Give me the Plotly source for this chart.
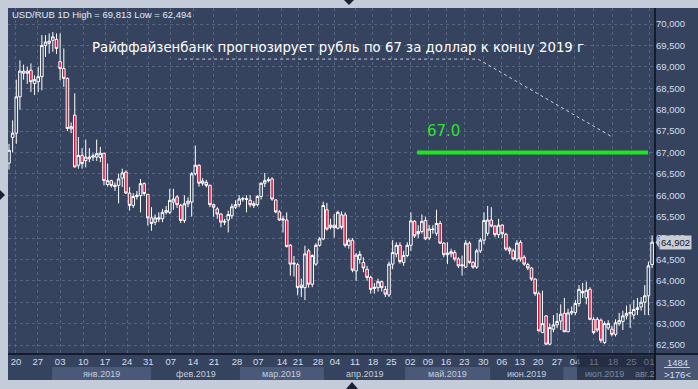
import plotly.graph_objects as go

# ---------------- data ----------------
open_ = [66.75, 67.35, 67.45, 68.30, 68.85, 68.90, 68.92, 68.61, 68.65, 68.77,
         69.50, 69.55, 69.62, 69.64, 69.12, 68.96, 68.73, 67.55, 67.87, 66.70,
         66.93, 66.81, 66.85, 66.89, 66.89, 66.88, 66.98, 66.25, 66.34, 66.20,
         66.23, 66.40, 66.54, 66.05, 65.76, 65.97, 65.99, 66.27, 66.02, 65.47,
         65.37, 65.44, 65.45, 65.60, 65.60, 65.84, 65.96, 65.76, 65.41, 65.80,
         65.84, 66.50, 66.70, 66.28, 66.30, 66.23, 65.78, 65.68, 65.56, 65.37,
         65.42, 65.52, 65.72, 65.78, 65.91, 65.92, 65.88, 65.80, 65.78, 65.97,
         66.28, 66.34, 66.38, 65.89, 65.61, 65.42, 65.42, 64.83, 64.39, 64.38,
         63.90, 63.84, 64.70, 63.92, 64.39, 64.83, 64.98, 65.66, 65.25, 65.30,
         65.23, 65.54, 65.54, 64.83, 64.95, 64.23, 64.50, 64.43, 64.27, 64.08,
         63.82, 63.84, 63.98, 63.80, 63.67, 64.39, 64.63, 64.83, 64.43, 64.59,
         64.83, 65.39, 65.10, 65.15, 65.41, 65.00, 65.21, 65.11, 65.34, 64.88,
         64.61, 64.63, 64.66, 64.51, 64.35, 64.32, 64.88, 64.43, 64.32, 64.70,
         64.95, 65.11, 65.42, 65.28, 65.08, 65.30, 65.09, 64.76, 64.70, 64.51,
         64.90, 64.55, 64.38, 64.30, 64.04, 63.70, 62.79, 63.18, 62.52, 62.87,
         62.97, 63.06, 63.24, 62.81, 63.25, 63.26, 63.47, 63.75, 63.60, 63.80,
         63.10, 63.10, 63.08, 62.56, 62.90, 62.87, 62.75, 63.00, 63.05, 63.18,
         63.24, 63.20, 63.33, 63.39, 63.50, 63.65, 64.38]
high = [67.20, 67.75, 68.70, 69.15, 69.05, 69.00, 69.08, 68.80, 69.00, 69.74,
        69.74, 69.78, 69.813, 69.78, 69.78, 69.43, 68.75, 67.70, 68.38, 67.36,
        67.10, 67.30, 67.10, 66.98, 67.30, 67.13, 66.99, 66.74, 66.36, 66.30,
        66.50, 66.62, 66.58, 66.19, 66.05, 66.10, 66.38, 66.30, 66.03, 65.72,
        65.55, 65.60, 65.68, 65.75, 66.15, 66.15, 66.00, 65.80, 66.00, 65.95,
        66.54, 67.16, 66.72, 66.40, 66.36, 66.25, 65.80, 65.72, 65.58, 65.45,
        65.64, 65.80, 65.88, 66.00, 65.96, 66.00, 66.00, 65.86, 66.00, 66.30,
        66.52, 66.42, 66.42, 65.90, 65.65, 65.52, 65.60, 64.86, 64.58, 64.42,
        64.05, 64.82, 64.75, 64.62, 64.88, 65.02, 65.85, 65.82, 65.45, 65.56,
        65.64, 65.62, 65.60, 65.00, 65.00, 64.65, 64.70, 64.55, 64.35, 64.12,
        63.95, 64.05, 64.00, 63.88, 64.45, 64.95, 64.90, 64.90, 64.70, 64.90,
        65.60, 65.42, 65.30, 65.55, 65.50, 65.30, 65.30, 65.66, 65.40, 64.90,
        64.90, 64.75, 64.72, 64.55, 64.59, 64.95, 64.92, 64.46, 64.75, 65.00,
        65.60, 65.75, 65.72, 65.30, 65.45, 65.32, 65.12, 64.80, 64.75, 64.95,
        64.95, 64.60, 64.42, 64.32, 64.06, 63.75, 63.77, 63.20, 63.00, 63.20,
        63.25, 63.45, 63.60, 63.35, 63.40, 63.55, 63.90, 63.95, 63.98, 63.85,
        63.15, 63.15, 63.12, 63.05, 63.08, 62.95, 63.10, 63.25, 63.30, 63.42,
        63.45, 63.55, 63.60, 63.62, 63.90, 64.45, 65.06]
low = [66.60, 67.00, 67.20, 68.00, 68.70, 68.60, 68.41, 68.34, 68.41, 68.45,
       69.23, 69.31, 69.35, 69.30, 68.69, 68.53, 67.50, 67.45, 66.65, 66.62,
       66.62, 66.65, 66.77, 66.80, 66.80, 66.77, 66.23, 66.20, 66.18, 66.10,
       65.81, 66.19, 66.03, 65.64, 65.70, 65.90, 65.60, 65.98, 65.29, 65.17,
       65.30, 65.37, 65.37, 65.55, 65.56, 65.66, 65.70, 65.35, 65.35, 65.72,
       65.50, 66.46, 66.20, 66.22, 66.18, 65.72, 65.50, 65.45, 65.25, 65.30,
       65.13, 65.45, 65.68, 65.72, 65.85, 65.60, 65.72, 65.70, 65.74, 65.90,
       66.19, 66.30, 65.87, 65.58, 65.40, 65.13, 64.78, 64.12, 64.10, 63.66,
       63.62, 63.55, 63.84, 63.85, 64.35, 64.80, 64.95, 65.17, 65.20, 65.01,
       65.20, 65.20, 64.78, 64.75, 64.20, 64.00, 64.40, 64.20, 64.00, 63.70,
       63.70, 63.75, 63.75, 63.62, 63.62, 64.27, 64.55, 64.40, 64.35, 64.55,
       64.70, 65.00, 65.00, 65.10, 64.95, 64.95, 65.10, 65.05, 64.86, 64.55,
       64.39, 64.55, 64.45, 64.30, 64.12, 64.30, 64.40, 64.28, 64.28, 64.65,
       64.85, 65.05, 65.25, 65.02, 65.00, 65.00, 64.70, 64.62, 64.48, 64.45,
       64.45, 64.35, 64.25, 64.00, 63.65, 62.82, 62.79, 62.494, 62.50, 62.80,
       62.90, 62.85, 62.80, 62.80, 63.20, 63.20, 63.40, 63.60, 63.45, 63.08,
       62.75, 62.80, 62.55, 62.52, 62.85, 62.70, 62.70, 62.95, 62.85, 63.10,
       62.90, 63.10, 63.20, 63.30, 63.20, 63.20, 64.30]
close = [67.05, 67.45, 68.30, 68.90, 68.90, 68.85, 68.65, 68.70, 68.77, 69.50,
         69.58, 69.60, 69.70, 69.43, 68.96, 68.73, 67.56, 67.60, 66.66, 66.93,
         66.74, 66.89, 66.89, 66.92, 66.97, 66.98, 66.34, 66.34, 66.23, 66.23,
         66.38, 66.52, 66.05, 65.76, 65.97, 66.00, 66.27, 66.04, 65.47, 65.34,
         65.47, 65.47, 65.60, 65.64, 65.88, 65.91, 65.78, 65.41, 65.80, 65.86,
         66.50, 66.70, 66.28, 66.33, 66.23, 65.78, 65.72, 65.56, 65.37, 65.39,
         65.55, 65.73, 65.78, 65.91, 65.92, 65.90, 65.78, 65.76, 65.97, 66.28,
         66.34, 66.36, 65.91, 65.61, 65.42, 65.44, 64.80, 64.39, 64.41, 63.84,
         63.84, 64.63, 63.92, 64.59, 64.83, 64.98, 65.76, 65.21, 65.30, 65.24,
         65.60, 65.25, 64.83, 64.95, 64.25, 64.60, 64.62, 64.30, 64.08, 63.80,
         63.85, 63.98, 63.84, 63.69, 64.39, 64.66, 64.83, 64.45, 64.59, 64.83,
         65.40, 65.05, 65.15, 65.39, 64.98, 65.21, 65.20, 65.34, 64.88, 64.61,
         64.65, 64.68, 64.51, 64.35, 64.37, 64.88, 64.43, 64.32, 64.70, 64.95,
         65.41, 65.42, 65.28, 65.08, 65.30, 65.10, 64.74, 64.70, 64.51, 64.88,
         64.51, 64.39, 64.30, 64.04, 63.70, 62.83, 63.00, 62.52, 62.91, 62.97,
         63.05, 63.22, 62.81, 63.25, 63.28, 63.47, 63.80, 63.72, 63.78, 63.10,
         62.79, 62.85, 62.61, 63.00, 63.00, 62.75, 63.02, 63.07, 63.18, 63.24,
         63.26, 63.33, 63.37, 63.50, 63.65, 64.35, 64.902]
bars = list(range(len(close)))

# day labels (every Thursday) and the bar position where each label sits
day_tick_pos = [1.9, 7.9, 14.0, 20.3, 26.3, 32.3, 38.1, 44.3, 50.4, 56.1, 62.4,
                68.2, 74.7, 79.1, 84.6, 89.2, 94.7, 99.6, 104.6, 109.8, 114.7,
                119.6, 124.6, 129.8, 134.9, 139.8, 144.8, 150.0, 154.9, 160.1,
                165.3, 170.3, 175.2]
day_tick_text = ["20", "27", "03", "10", "17", "24", "31", "07", "14", "21", "28",
                 "07", "14", "21", "28", "04", "11", "18", "25", "02", "09",
                 "16", "23", "30", "06", "13", "20", "27", "04", "11", "18",
                 "25", "01"]
month_names = ["янв.2019", "фев.2019", "мар.2019", "апр.2019", "май.2019",
               "июн.2019", "июл.2019", "авг.2"]
month_start = [11.8, 38.9, 63.2, 86.2, 108.4, 131.7, 151.7, 174.1]
price_ticks = [62.5, 63.0, 63.5, 64.0, 64.5, 65.0, 65.5, 66.0, 66.5, 67.0,
               67.5, 68.0, 68.5, 69.0, 69.5, 70.0]

FORECAST = 67.0
forecast_from, forecast_to = 111.7, 174.9
title_text = "Райффайзенбанк прогнозирует рубль по 67 за доллар к концу 2019 г"
pointer_x = [46.3, 128.4, 165.1]
pointer_y = [69.18, 69.18, 67.36]
bars_total, bars_visible = "1484", ">176<"

# ---------------- layout geometry ----------------
W, H = 698, 389
ML, MR, MT, MB = 8, 43, 8, 35
PW, PH = W - ML - MR, H - MT - MB
X_RANGE = [-0.27, 176.8]
Y_RANGE = [62.29, 70.374]

def px(x):
    return (x - ML) / PW

def py(y):
    return (H - MB - y) / PH

BG = "#35435f"
GRID = "#55647f"
BORDER = "#c3ccd8"
TXT = "#d4dcea"
RED = "#e0103c"
FONT = "Liberation Sans"

def fmt(v):
    return f"{v:.3f}".replace(".", ",")

fig = go.Figure()
fig.add_trace(go.Candlestick(
    x=bars, open=open_, high=high, low=low, close=close,
    increasing=dict(line=dict(color="#ffffff", width=1), fillcolor=BG),
    decreasing=dict(line=dict(color="#ffffff", width=1), fillcolor=RED),
    whiskerwidth=0, hoverinfo="skip", showlegend=False,
))

shapes = []
# grey window frame
shapes.append(dict(type="rect", xref="paper", yref="paper", x0=px(0), x1=px(W),
                   y0=py(MT), y1=py(0), fillcolor=BORDER, line_width=0, layer="below"))
shapes.append(dict(type="rect", xref="paper", yref="paper", x0=px(0), x1=px(ML),
                   y0=py(H), y1=py(0), fillcolor=BORDER, line_width=0, layer="below"))
shapes.append(dict(type="rect", xref="paper", yref="paper", x0=px(0), x1=px(W),
                   y0=py(H), y1=py(380), fillcolor=BORDER, line_width=0, layer="below"))
# frame triangles
shapes.append(dict(type="path", xref="paper", yref="paper",
                   path=f"M {px(344)} {py(0)} L {px(354)} {py(0)} L {px(349)} {py(5)} Z",
                   fillcolor="#1a2233", line_width=0))
shapes.append(dict(type="path", xref="paper", yref="paper",
                   path=f"M {px(0)} {py(190)} L {px(0)} {py(200)} L {px(5)} {py(195)} Z",
                   fillcolor="#1a2233", line_width=0))
shapes.append(dict(type="path", xref="paper", yref="paper",
                   path=f"M {px(346)} {py(389)} L {px(358)} {py(389)} L {px(352)} {py(382)} Z",
                   fillcolor="#1a2233", line_width=0))
# month bands
for i in range(0, len(month_start), 2):
    x1 = month_start[i + 1] if i + 1 < len(month_start) else X_RANGE[1]
    shapes.append(dict(type="rect", xref="x", yref="paper", x0=month_start[i], x1=x1,
                       y0=py(380), y1=py(367), fillcolor="#4a5977", line_width=0,
                       layer="below"))
# bottom-right counter box
shapes.append(dict(type="rect", xref="paper", yref="paper", x0=px(656), x1=px(W),
                   y0=py(380), y1=py(355), fillcolor="#485674", line_width=0, layer="below"))
shapes.append(dict(type="line", xref="paper", yref="paper", x0=px(664), x1=px(690),
                   y0=py(367.5), y1=py(367.5), line=dict(color="#c4ccda", width=1)))
# dark overlay on the date strip
shapes.append(dict(type="rect", xref="paper", yref="paper", x0=px(577), x1=px(655),
                   y0=py(380), y1=py(355.5), fillcolor="rgba(22,28,44,0.55)",
                   line_width=0, layer="above"))
# separators
shapes.append(dict(type="line", xref="paper", yref="paper", x0=1, x1=1,
                   y0=py(380), y1=py(MT), line=dict(color="#0c1019", width=1.5), layer="above"))
shapes.append(dict(type="line", xref="paper", yref="paper", x0=0, x1=px(W),
                   y0=0, y1=0, line=dict(color="#0c1019", width=1.5), layer="above"))
# forecast line
shapes.append(dict(type="line", xref="x", yref="y", x0=forecast_from, x1=forecast_to,
                   y0=FORECAST, y1=FORECAST, line=dict(color="#1ee61e", width=4)))
# pointer dotted line
shapes.append(dict(type="path", xref="x", yref="y",
                   path=(f"M {pointer_x[0]} {pointer_y[0]} L {pointer_x[1]} {pointer_y[1]} "
                         f"L {pointer_x[2]} {pointer_y[2]}"),
                   line=dict(color="#c9d0dc", width=1, dash="dot")))
# current price marker arrow
last = close[-1]
shapes.append(dict(type="path", xref="paper", yref="y",
                   path=(f"M {px(655.5)} {last} L {px(659)} {last + 0.13} "
                         f"L {px(659)} {last - 0.13} Z"),
                   fillcolor="#c9cdd6", line_width=0, layer="above"))

ann = []
ann.append(dict(xref="paper", yref="paper", x=px(10), y=py(15), xanchor="left",
                yanchor="middle", showarrow=False,
                text=f"USD/RUB 1D High = {fmt(max(high))} Low = {fmt(min(low))}",
                font=dict(family=FONT, size=9.5, color="#e4e9f1")))
ann.append(dict(xref="x", yref="y", x=90.1, y=69.46, xanchor="center", showarrow=False,
                text=title_text,
                font=dict(family="DejaVu Sans", size=13.3, color="#ffffff")))
ann.append(dict(xref="x", yref="y", x=118.8, y=67.51, xanchor="center", showarrow=False,
                text=f"{FORECAST:.1f}",
                font=dict(family="DejaVu Sans", size=15, color="#2fe02f")))
for i, name in enumerate(month_names):
    if i + 1 < len(month_start):
        mid = (month_start[i] + month_start[i + 1]) / 2
        dim = i == 6
        ann.append(dict(xref="x", yref="paper", x=mid, y=py(374), showarrow=False,
                        text=name, xanchor="center", yanchor="middle",
                        font=dict(family=FONT, size=9,
                                  color="#7d889c" if dim else "#c3cddc")))
    else:
        ann.append(dict(xref="paper", yref="paper", x=px(633), y=py(374),
                        xanchor="left", yanchor="middle", showarrow=False, text=name,
                        font=dict(family=FONT, size=9, color="#7d889c")))
ann.append(dict(xref="paper", yref="paper", x=px(677), y=py(362), showarrow=False,
                text=bars_total, xanchor="center", yanchor="middle",
                font=dict(family=FONT, size=9.5, color=TXT)))
ann.append(dict(xref="paper", yref="paper", x=px(677), y=py(374), showarrow=False,
                text=bars_visible, xanchor="center", yanchor="middle",
                font=dict(family=FONT, size=9.5, color=TXT)))
ann.append(dict(xref="paper", yref="y", x=px(659), y=last, xanchor="left",
                yanchor="middle", showarrow=False, text=fmt(last),
                bgcolor="#c9cdd6", borderpad=1,
                font=dict(family=FONT, size=9.5, color="#10141c")))

fig.update_layout(
    width=W, height=H, autosize=False,
    margin=dict(l=ML, r=MR, t=MT, b=MB, pad=0),
    paper_bgcolor=BG, plot_bgcolor=BG,
    separators=",.",
    boxgap=0.3, boxgroupgap=0,
    shapes=shapes, annotations=ann,
    xaxis=dict(range=X_RANGE, tickvals=day_tick_pos, ticktext=day_tick_text,
               showgrid=True, gridcolor=GRID, griddash="3px,3px", gridwidth=1,
               zeroline=False, showline=False, ticks="",
               tickfont=dict(family=FONT, size=9.5, color=TXT),
               rangeslider=dict(visible=False), fixedrange=True),
    yaxis=dict(range=Y_RANGE, side="right", tickvals=price_ticks, tickformat=".3f",
               showgrid=True, gridcolor=GRID, griddash="3px,3px", gridwidth=1,
               zeroline=False, showline=False, ticks="",
               tickfont=dict(family=FONT, size=9.5, color=TXT), fixedrange=True),
)

fig.write_html("out.html")
